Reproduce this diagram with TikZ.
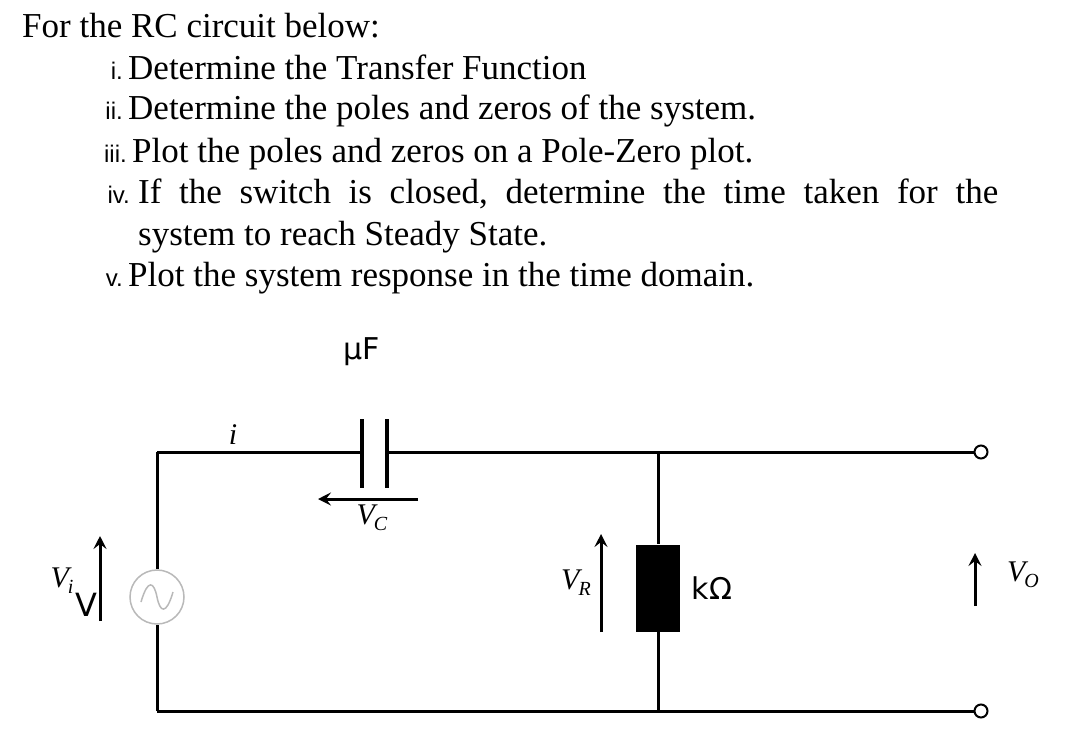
\documentclass[tikz,border=0pt]{standalone}
\usepackage{fontspec}
\usetikzlibrary{arrows.meta}
\setmainfont{Liberation Serif}
\newfontfamily\numf{Liberation Sans}
\newfontfamily\lblf{DejaVu Sans}
\newcommand{\myvlab}[2]{{\itshape V\kern-1pt\raisebox{-6pt}{\fontsize{20}{22}\selectfont #2}}}
\begin{document}
\begin{tikzpicture}[x=1pt,y=-1pt,
  wire/.style={line width=3pt},
  txt/.style={anchor=base west,inner sep=0,font=\fontsize{35}{40}\selectfont},
  num/.style={anchor=base east,inner sep=0,font=\numf\fontsize{24}{28}\selectfont},
  mlbl/.style={inner sep=0,font=\fontsize{30}{34}\selectfont},
  arr/.style={line width=3pt,-{Stealth[length=13pt,width=13pt,inset=5pt]}},
  term/.style={circle,draw,line width=2pt,inner sep=0,minimum size=13pt,fill=white}]
\useasboundingbox (0,0) rectangle (1086,733);
\node[txt] (t0) at (22,38) {For the RC circuit below:};
\node[num] (n1) at (123,80) {i.};
\node[txt] (t1) at (128,80) {Determine the Transfer Function};
\node[num] (n2) at (123,120) {ii.};
\node[txt] (t2) at (128,120) {Determine the poles and zeros of the system.};
\node[num] (n3) at (127,162) {iii.};
\node[txt] (t3) at (132,162) {Plot the poles and zeros on a Pole-Zero plot.};
\node[num] (n4) at (130,203) {iv.};
\node[txt] (t4) at (138,203) {\hbox to 860pt{If\hfill the\hfill switch\hfill is\hfill closed,\hfill determine\hfill the\hfill time\hfill taken\hfill for\hfill the}};
\node[txt] (t4b) at (138,245) {system to reach Steady State.};
\node[num] (n5) at (123,286) {v.};
\node[txt] (t5) at (128,286) {Plot the system response in the time domain.};
% circuit
\coordinate (tl) at (157,452); \coordinate (bl) at (157,711);
\node[term] (o1) at (981,452) {};
\node[term] (o2) at (981,711) {};
\coordinate (c1) at (362,452); \coordinate (c2) at (387,452);
\coordinate (rt) at (658,452); \coordinate (rb) at (658,711);
\node[circle,draw=gray!55,line width=1.5pt,minimum size=54pt,inner sep=0,fill=white] (src) at (157,597) {};
\draw[wire] (tl) -- (c1);
\draw[wire] (c2) -- (o1);
\draw[wire] (bl) -- (o2);
\draw[wire] (tl) -- (src.north);
\draw[wire] (src.south) -- (bl);
\draw[gray!55,line width=1.5pt] (141,602) .. controls (148,578) and (154,582) .. (157,597) .. controls (160,612) and (166,616) .. (173,592);
\draw[line width=3.5pt] (362,419) -- (362,488);
\draw[line width=3.5pt] (387,419) -- (387,488);
\node[fill=black,minimum width=44pt,minimum height=87pt,inner sep=0] (R) at (658,588) {};
\draw[wire] (rt) -- (R.north);
\draw[wire] (R.south) -- (rb);
% arrows
\coordinate (vc1) at (418,499); \coordinate (vc2) at (318,499);
\draw[arr] (vc1) -- (vc2);
\coordinate (vr1) at (601,632); \coordinate (vr2) at (601,534);
\draw[arr] (vr1) -- (vr2);
\coordinate (vi1) at (100,621); \coordinate (vi2) at (100,536);
\draw[arr] (vi1) -- (vi2);
\coordinate (vo1) at (975,606); \coordinate (vo2) at (975,553);
\draw[arr] (vo1) -- (vo2);
% labels
\node[mlbl] (lvc) at (372,518) {\myvlab{}{C}};
\node[mlbl] (li) at (233,435) {\itshape i};
\node[mlbl] (lvr) at (576,583) {\myvlab{}{R}};
\node[mlbl] (lvi) at (62,581) {\myvlab{}{i}};
\node[mlbl] (lvo) at (1023,575) {\myvlab{}{O}};
\node[inner sep=0,font=\lblf\fontsize{32}{34}\selectfont] (lv) at (86,605) {V};
\node[inner sep=0,font=\lblf\fontsize{30}{32}\selectfont] (luf) at (362,352) {μF};
\node[inner sep=0,font=\lblf\fontsize{30}{32}\selectfont] (lk) at (712,588) {kΩ};
\end{tikzpicture}
\end{document}
